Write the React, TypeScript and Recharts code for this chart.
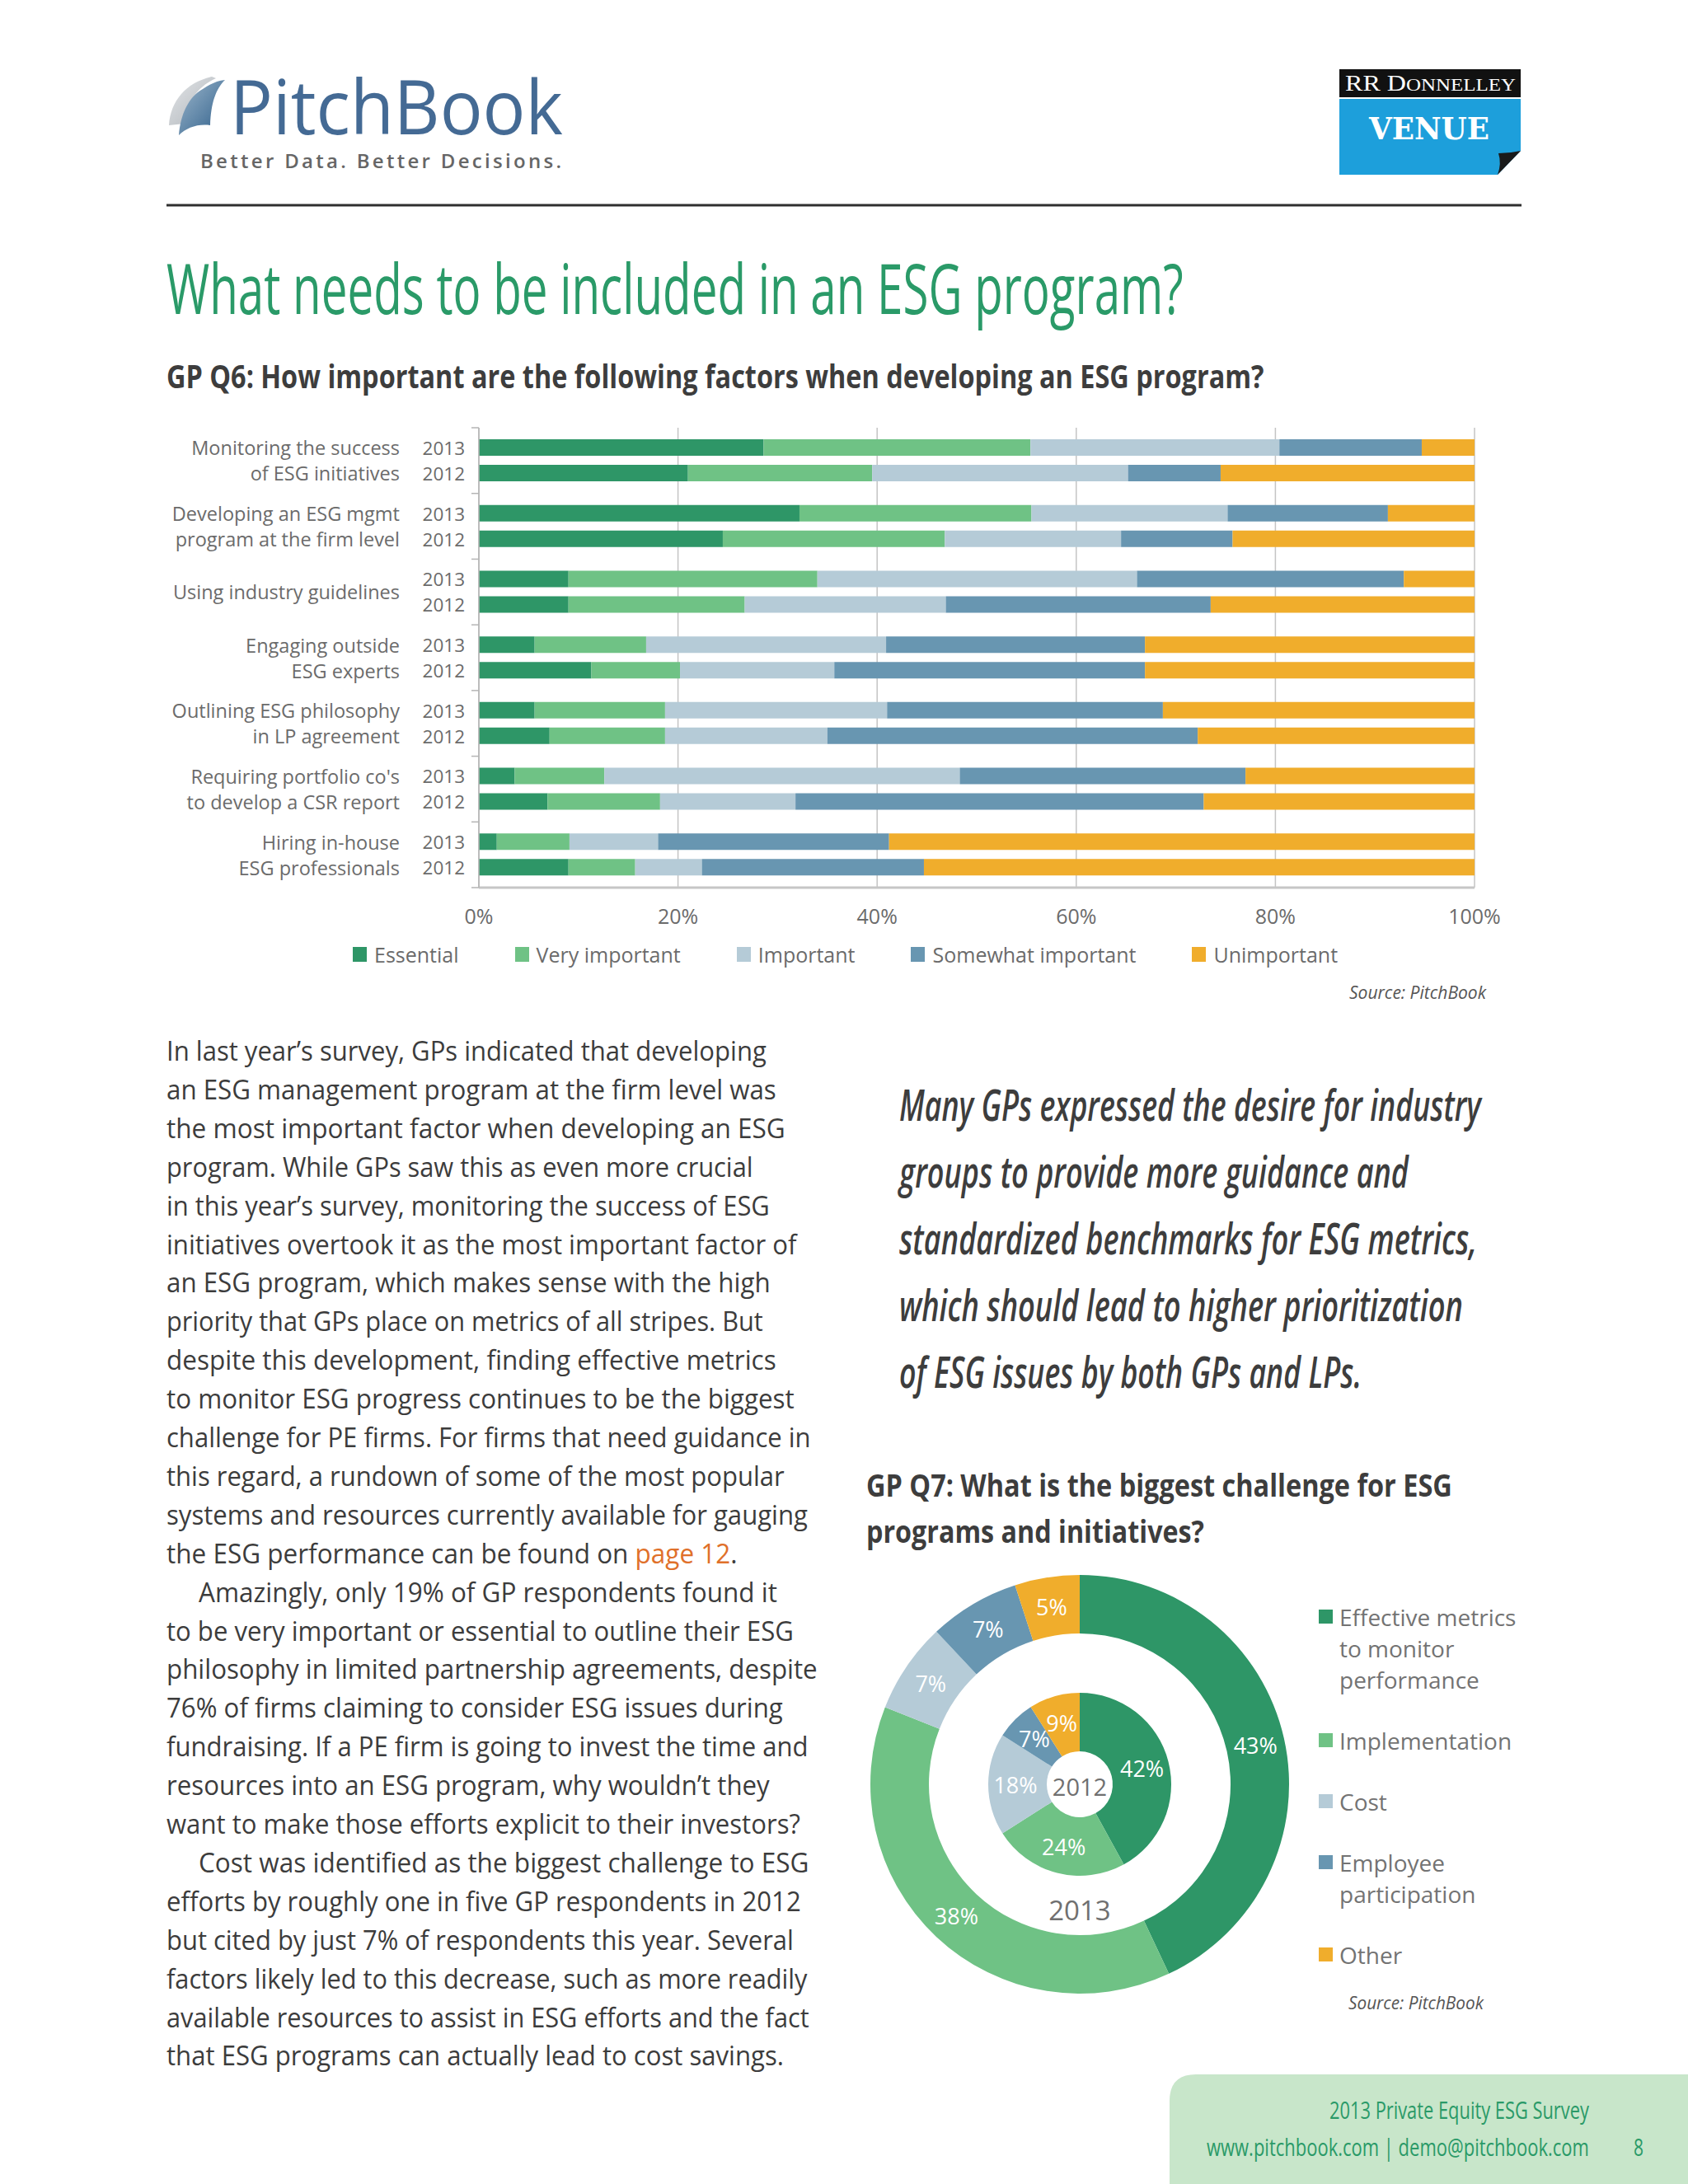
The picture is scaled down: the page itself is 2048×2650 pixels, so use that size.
import React from "react";
import {
  BarChart,
  Bar,
  XAxis,
  YAxis,
  CartesianGrid,
  PieChart,
  Pie,
  Cell,
} from "recharts";

// page is photographed at 2048x2650, so drop the default body margin
if (typeof document !== "undefined") {
  document.body.style.margin = "0";
  document.body.style.overflow = "hidden";
}

const FONT = '"Open Sans", "Noto Sans", sans-serif';
const INK = "#3c3c3c";
const GREY = "#6b6b6b";
const GREEN = "#2a9a68";

// ---- GP Q6 data (percent of respondents) ----
const FACTORS = [
  "Monitoring the success|of ESG initiatives",
  "Developing an ESG mgmt|program at the firm level",
  "Using industry guidelines",
  "Engaging outside|ESG experts",
  "Outlining ESG philosophy|in LP agreement",
  "Requiring portfolio co's|to develop a CSR report",
  "Hiring in-house|ESG professionals",
];
const YEARS = ["2013", "2012"];
const LEVELS = ["Essential", "Very important", "Important", "Somewhat important", "Unimportant"];
const LEVEL_COLORS = ["#2e9667", "#6fc285", "#b5cbd7", "#6896b1", "#f0ad2c"];

const ESSENTIAL_2013 = [28.6, 32.2, 9.0, 5.6, 5.6, 3.6, 1.8];
const VERY_2013 = [26.8, 23.3, 25.0, 11.2, 13.1, 9.0, 7.3];
const IMPORTANT_2013 = [25.0, 19.7, 32.1, 24.1, 22.3, 35.7, 8.9];
const SOMEWHAT_2013 = [14.3, 16.1, 26.8, 26.0, 27.7, 28.7, 23.2];
const UNIMPORTANT_2013 = [5.3, 8.7, 7.1, 33.1, 31.3, 23.0, 58.8];

const ESSENTIAL_2012 = [21.0, 24.5, 9.0, 11.3, 7.1, 6.9, 9.0];
const VERY_2012 = [18.5, 22.3, 17.7, 8.9, 11.6, 11.3, 6.7];
const IMPORTANT_2012 = [25.7, 17.7, 20.2, 15.5, 16.3, 13.6, 6.7];
const SOMEWHAT_2012 = [9.3, 11.2, 26.6, 31.2, 37.2, 41.0, 22.3];
const UNIMPORTANT_2012 = [25.5, 24.3, 26.5, 33.1, 27.8, 27.2, 55.3];

const X_TICKS = [0, 20, 40, 60, 80, 100];

// ---- GP Q7 data ----
const CHALLENGES = [
  "Effective metrics|to monitor|performance",
  "Implementation",
  "Cost",
  "Employee|participation",
  "Other",
];
const CHALLENGE_COLORS = ["#2e9667", "#6fc285", "#b5cbd7", "#6896b1", "#f0ad2c"];
const Q7_2013 = [43, 38, 7, 7, 5];
const Q7_2012 = [42, 24, 18, 7, 9];

// ---- copy ----
const BODY = [
  "In last year\u2019s survey, GPs indicated that developing",
  "an ESG management program at the firm level was",
  "the most important factor when developing an ESG",
  "program. While GPs saw this as even more crucial",
  "in this year\u2019s survey, monitoring the success of ESG",
  "initiatives overtook it as the most important factor of",
  "an ESG program, which makes sense with the high",
  "priority that GPs place on metrics of all stripes. But",
  "despite this development, finding effective metrics",
  "to monitor ESG progress continues to be the biggest",
  "challenge for PE firms. For firms that need guidance in",
  "this regard, a rundown of some of the most popular",
  "systems and resources currently available for gauging",
  "the ESG performance can be found on ",
  "Amazingly, only 19% of GP respondents found it",
  "to be very important or essential to outline their ESG",
  "philosophy in limited partnership agreements, despite",
  "76% of firms claiming to consider ESG issues during",
  "fundraising. If a PE firm is going to invest the time and",
  "resources into an ESG program, why wouldn\u2019t they",
  "want to make those efforts explicit to their investors?",
  "Cost was identified as the biggest challenge to ESG",
  "efforts by roughly one in five GP respondents in 2012",
  "but cited by just 7% of respondents this year. Several",
  "factors likely led to this decrease, such as more readily",
  "available resources to assist in ESG efforts and the fact",
  "that ESG programs can actually lead to cost savings.",
];
const BODY_RIGHT = [930, 942, 953, 914, 934, 967, 935, 926, 942, 964, 984, 952, 980, 895,
  943, 963, 992, 950, 981, 934, 971, 982, 972, 963, 980, 982, 951];
const INDENTED = [14, 21];

const QUOTE = [
  "Many GPs expressed the desire for industry",
  "groups to provide more guidance and",
  "standardized benchmarks for ESG metrics,",
  "which should lead to higher prioritization",
  "of ESG issues by both GPs and LPs.",
];
const QUOTE_RIGHT = [1797, 1709, 1792, 1775, 1652];

const rows = FACTORS.map((factor, i) => {
  const values: Record<string, number[][]> = {
    "2013": [ESSENTIAL_2013, VERY_2013, IMPORTANT_2013, SOMEWHAT_2013, UNIMPORTANT_2013],
    "2012": [ESSENTIAL_2012, VERY_2012, IMPORTANT_2012, SOMEWHAT_2012, UNIMPORTANT_2012],
  };
  const row: Record<string, string | number> = { factor };
  YEARS.forEach((y) => LEVELS.forEach((_, j) => (row[`y${y}_${j}`] = values[y][j][i])));
  return row;
});

const BAR = 20;
const GAP = 11;

function FactorTick(props: any) {
  const { x, y, payload, index } = props;
  const half = payload?.offset || 39.8;
  const row = (BAR + GAP) / 2;
  const lines = String(payload.value).split("|");
  const style = { fontFamily: FONT, fontSize: 23.5, fill: GREY };
  return (
    <g>
      <line x1={x - 9} x2={x} y1={y - half} y2={y - half} stroke="#b5b5b5" strokeWidth={1.5} />
      {index === FACTORS.length - 1 && (
        <line x1={x - 9} x2={x} y1={y + half} y2={y + half} stroke="#b5b5b5" strokeWidth={1.5} />
      )}
      {YEARS.map((yr, k) => (
        <text key={yr} x={x - 17} y={y + (k === 0 ? -row : row)} textAnchor="end" dominantBaseline="central" {...style} fontSize={22.5}>
          {yr}
        </text>
      ))}
      {lines.length === 1 ? (
        <text x={x - 96} y={y} textAnchor="end" dominantBaseline="central" {...style}>{lines[0]}</text>
      ) : (
        lines.map((l, k) => (
          <text key={k} x={x - 96} y={y + (k === 0 ? -row : row)} textAnchor="end" dominantBaseline="central" {...style}>
            {l}
          </text>
        ))
      )}
    </g>
  );
}

const RAD = Math.PI / 180;
function pctLabel(props: any) {
  const { cx, cy, midAngle, innerRadius, outerRadius, value } = props;
  const r = innerRadius < 60 ? 78 : (innerRadius + outerRadius) / 2;
  const x = cx + r * Math.cos(-midAngle * RAD);
  const y = cy + r * Math.sin(-midAngle * RAD);
  return (
    <text x={x} y={y} fill="#ffffff" textAnchor="middle" dominantBaseline="central" fontFamily={FONT} fontSize={27}>
      {value}%
    </text>
  );
}

// the print uses a condensed face; squeeze each line to the width it has on the page
const measureCtx = typeof document !== "undefined" ? document.createElement("canvas").getContext("2d") : null;
function naturalWidth(text: string, size: number, weight: number, italic: boolean, family: string) {
  if (!measureCtx) return 0;
  measureCtx.font = `${italic ? "italic " : ""}${weight} ${size}px ${family}`;
  return measureCtx.measureText(text).width;
}

function Line(p: {
  x: number; y: number; w: number; size: number; fill?: string; weight?: number;
  italic?: boolean; children: React.ReactNode; spread?: boolean; family?: string; measure?: string;
}) {
  const family = p.family ?? FONT;
  const weight = p.weight ?? 400;
  const str = p.measure ?? String(p.children);
  const nat = naturalWidth(str, p.size, weight, !!p.italic, family);
  const common = {
    fontSize: p.size,
    fill: p.fill ?? INK,
    fontWeight: weight,
    fontStyle: p.italic ? "italic" : "normal",
    fontFamily: family,
  };
  if (p.spread) {
    const ls = nat > 0 && str.length > 1 ? (p.w - nat) / (str.length - 1) : 0;
    return (
      <text x={p.x} y={p.y} letterSpacing={ls} {...common}>
        {p.children}
      </text>
    );
  }
  const k = nat > 0 ? p.w / nat : 1;
  return (
    <text transform={`translate(${p.x} ${p.y}) scale(${k} 1)`} x={0} y={0} {...common}>
      {p.children}
    </text>
  );
}

function PageText() {
  return (
    <svg width={2048} height={2650} style={{ position: "absolute", left: 0, top: 0 }}>
      <defs>
        <linearGradient id="leaf" x1="0" y1="0" x2="1" y2="1">
          <stop offset="0" stopColor="#9db7cc" />
          <stop offset="1" stopColor="#2f5f8a" />
        </linearGradient>
        <linearGradient id="leafGrey" x1="0" y1="0" x2="1" y2="1">
          <stop offset="0" stopColor="#e4e6e8" />
          <stop offset="1" stopColor="#aeb4ba" />
        </linearGradient>
      </defs>

      {/* PitchBook logo */}
      <path d="M205,152 C207,122 226,100 257,93 L262,95 C238,106 226,126 224,150 Z" fill="url(#leafGrey)" />
      <path d="M217,164 C219,140 228,118 246,108 C255,102 263,98 273,97 C262,108 256,124 255,152 C240,150 226,155 217,164 Z" fill="url(#leaf)" />
      <Line x={279} y={163} w={404} size={91} fill="#446a94">PitchBook</Line>
      <Line x={243} y={204} w={438} size={24} fill="#666666" weight={600} spread>Better Data. Better Decisions.</Line>

      {/* RR Donnelley Venue badge */}
      <rect x={1625} y={84} width={220} height={34} fill="#111111" />
      <path d="M1625,120 L1845,120 L1845,183 L1817,212 L1625,212 Z" fill="#1d9fdb" />
      <path d="M1818,186 Q1832,186 1845,183 L1817,212 Q1822,198 1818,186 Z" fill="#1a1a1a" />
      <text x={1632} y={110} fill="#ffffff" fontFamily='"Liberation Serif", serif' textLength={207} lengthAdjust="spacingAndGlyphs">
        <tspan fontSize={27}>RR D</tspan>
        <tspan fontSize={21}>ONNELLEY</tspan>
      </text>
      <Line x={1661} y={169} w={146} size={38} fill="#ffffff" weight={700} family='"DejaVu Serif", "Liberation Serif", serif'>VENUE</Line>

      <line x1={202} x2={1846} y1={249} y2={249} stroke="#2f2f2f" strokeWidth={3} />

      <Line x={202} y={381} w={1234} size={84} fill={GREEN} weight={500}>What needs to be included in an ESG program?</Line>
      <Line x={202} y={471} w={1332} size={39} fill="#3d3d3d" weight={700}>
        GP Q6: How important are the following factors when developing an ESG program?
      </Line>
      <Line x={1637} y={1212} w={166} size={22} fill="#555555" italic>Source: PitchBook</Line>

      {/* body copy */}
      {BODY.map((t, i) => {
        const x = INDENTED.includes(i) ? 241 : 202;
        const link = i === 13;
        return (
          <Line key={i} x={x} y={1287 + i * 46.9} w={BODY_RIGHT[i] - x} size={33.5} measure={link ? t + "page 12." : t}>
            {t}
            {link && <tspan fill="#e0702a">page 12</tspan>}
            {link && "."}
          </Line>
        );
      })}

      {/* pull quote */}
      {QUOTE.map((t, i) => (
        <Line key={i} x={1091} y={1360 + i * 81} w={QUOTE_RIGHT[i] - 1091} size={52} fill="#3d3d3d" italic weight={600}>
          {t}
        </Line>
      ))}

      <Line x={1051} y={1816} w={711} size={38} fill="#3d3d3d" weight={700}>GP Q7: What is the biggest challenge for ESG</Line>
      <Line x={1051} y={1872} w={410} size={38} fill="#3d3d3d" weight={700}>programs and initiatives?</Line>

      <text x={1310} y={2167} textAnchor="middle" dominantBaseline="central" fontFamily={FONT} fontSize={29} fill="#707070">2012</text>
      <text x={1310} y={2317} textAnchor="middle" dominantBaseline="central" fontFamily={FONT} fontSize={33} fill="#707070">2013</text>
      <Line x={1636} y={2438} w={164} size={22} fill="#555555" italic>Source: PitchBook</Line>

      {/* footer */}
      <path d="M1419,2650 L1419,2549 Q1419,2517 1451,2517 L2048,2517 L2048,2650 Z" fill="#c8e6ca" />
      <Line x={1613} y={2571} w={315} size={30} fill={GREEN}>2013 Private Equity ESG Survey</Line>
      <Line x={1464} y={2616} w={464} size={30} fill={GREEN}>www.pitchbook.com | demo@pitchbook.com</Line>
      <Line x={1982} y={2616} w={12} size={30} fill={GREEN}>8</Line>
    </svg>
  );
}

function Swatch({ color, w = 17, h = 18 }: { color: string; w?: number; h?: number }) {
  return <span style={{ display: "inline-block", width: w, height: h, background: color, flex: "none" }} />;
}

export default function App() {
  return (
    <div style={{ position: "relative", width: 2048, height: 2650, background: "#ffffff", overflow: "hidden", fontFamily: FONT }}>
      <PageText />

      {/* GP Q6 stacked bars; one stack per year, 2013 above 2012 in every group */}
      <div style={{ position: "absolute", left: 180, top: 500 }}>
        <BarChart
          width={1640}
          height={660}
          data={rows}
          layout="vertical"
          margin={{ top: 19, right: 31, bottom: 43, left: 0 }}
          barSize={BAR}
          barGap={GAP}
        >
          <CartesianGrid horizontal={false} stroke="#c4c4c4" strokeWidth={1.5} />
          <XAxis
            type="number"
            domain={[0, 100]}
            ticks={X_TICKS}
            allowDataOverflow
            tickFormatter={(v) => `${v}%`}
            axisLine={{ stroke: "#c6c6c6", strokeWidth: 3 }}
            tickLine={false}
            tickSize={0}
            tickMargin={26}
            height={40}
            tick={{ fill: GREY, fontSize: 25, fontFamily: FONT }}
          />
          <YAxis
            type="category"
            dataKey="factor"
            width={401}
            interval={0}
            tickLine={false}
            tickSize={0}
            tickMargin={0}
            axisLine={{ stroke: "#b5b5b5", strokeWidth: 1.5 }}
            tick={<FactorTick />}
          />
          {YEARS.flatMap((y) =>
            LEVELS.map((l, j) => (
              <Bar key={`y${y}_${j}`} name={l} dataKey={`y${y}_${j}`} stackId={`year${y}`} fill={LEVEL_COLORS[j]} isAnimationActive={false} />
            )),
          )}
        </BarChart>
      </div>

      {/* Q6 legend */}
      <div style={{ position: "absolute", left: 428, top: 1146, display: "flex", alignItems: "center", height: 24 }}>
        {LEVELS.map((l, j) => (
          <div key={l} style={{ display: "flex", alignItems: "center", marginRight: 68 }}>
            <Swatch color={LEVEL_COLORS[j]} />
            <span style={{ marginLeft: 9, fontSize: 25, lineHeight: "25px", color: GREY, whiteSpace: "nowrap" }}>{l}</span>
          </div>
        ))}
      </div>

      {/* GP Q7 donut: outer ring 2013, inner 2012 */}
      <div style={{ position: "absolute", left: 1040, top: 1895 }}>
        <PieChart width={540} height={540}>
          <Pie
            data={CHALLENGES.map((c, i) => ({ name: c, value: Q7_2013[i] }))}
            dataKey="value"
            cx="50%"
            cy="50%"
            innerRadius={183}
            outerRadius={254}
            startAngle={90}
            endAngle={-270}
            stroke="none"
            label={pctLabel}
            labelLine={false}
            isAnimationActive={false}
          >
            {CHALLENGES.map((c, i) => (
              <Cell key={c} fill={CHALLENGE_COLORS[i]} />
            ))}
          </Pie>
          <Pie
            data={CHALLENGES.map((c, i) => ({ name: c, value: Q7_2012[i] }))}
            dataKey="value"
            cx="50%"
            cy="50%"
            innerRadius={40}
            outerRadius={111}
            startAngle={90}
            endAngle={-270}
            stroke="none"
            label={pctLabel}
            labelLine={false}
            isAnimationActive={false}
          >
            {CHALLENGES.map((c, i) => (
              <Cell key={c} fill={CHALLENGE_COLORS[i]} />
            ))}
          </Pie>
        </PieChart>
      </div>

      {/* Q7 legend */}
      <div style={{ position: "absolute", left: 1600, top: 1943 }}>
        {CHALLENGES.map((c, i) => (
          <div key={c} style={{ display: "flex", alignItems: "flex-start", marginBottom: 36 }}>
            <span style={{ marginTop: 10 }}>
              <Swatch color={CHALLENGE_COLORS[i]} h={17} />
            </span>
            <div style={{ marginLeft: 8, fontSize: 28, lineHeight: "38px", color: "#737373" }}>
              {c.split("|").map((l) => (
                <div key={l}>{l}</div>
              ))}
            </div>
          </div>
        ))}
      </div>
    </div>
  );
}
